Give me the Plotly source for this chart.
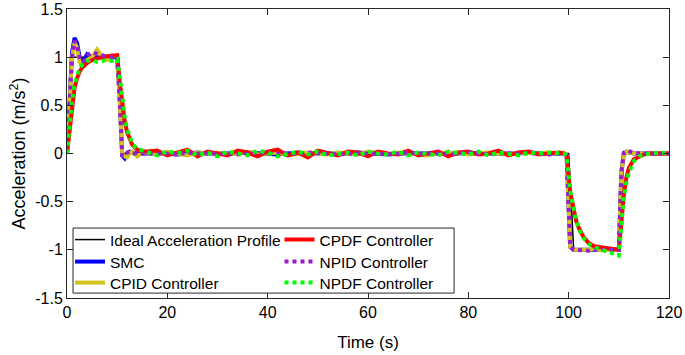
import plotly.graph_objects as go

# ---------------- data ----------------
t_rise = [0, 0.5, 1, 1.5, 2, 2.5, 3, 3.5, 4, 5, 6, 7, 8, 9, 10, 10.5, 11, 11.5, 12, 12.5, 13, 14, 15]
t_zero = [16, 18, 20, 22, 24, 26, 28, 30, 32, 34, 36, 38, 40, 42, 44, 46, 48, 50, 52, 54, 56,
          58, 60, 62, 64, 66, 68, 70, 72, 74, 76, 78, 80, 82, 84, 86, 88, 90, 92, 94, 96, 98]
t_fall = [99, 99.6, 100.3, 101, 101.5, 102, 103, 104, 105, 106, 107, 108, 109, 110, 110.5, 111,
          111.5, 112, 113, 114, 115, 116, 118, 120]

ideal_t = [0, 1, 10, 11, 100, 101, 110, 111, 120]
ideal_a = [0, 1, 1, 0, 0, -1, -1, 0, 0]

smc_rise = [0, 0.6, 1.05, 1.2, 1.15, 1.0, 0.95, 0.98, 1.03, 1.0, 1.0, 1.01, 1.0, 1.0, 1.0, 0.6, -0.02, -0.05, 0.0, 0.02, 0.01, 0.0, 0.0]
smc_zero = [0.0, 0.01, 0.0, -0.01, 0.0, 0.01, 0.0, 0.0, -0.01, 0.0, 0.01, 0.0, 0.0, -0.01, 0.0, 0.01, 0.0, 0.0, 0.0, -0.01, 0.0,
            0.01, 0.0, 0.0, -0.01, 0.0, 0.0, 0.01, 0.0, 0.0, -0.01, 0.0, 0.01, 0.0, 0.0, 0.0, -0.01, 0.0, 0.01, 0.0, 0.0, 0.0]
smc_fall = [0.0, -0.02, -0.97, -1.0, -1.0, -1.0, -1.0, -1.0, -1.0, -1.0, -1.0, -1.0, -1.0, -1.0, -0.2, 0.0, 0.02, 0.01, 0.0, 0.0, 0.0, 0.0, 0.0, 0.0]

cpid_rise = [0, 0.55, 1.0, 1.15, 1.1, 0.95, 0.9, 0.92, 0.97, 1.0, 1.08, 1.0, 0.97, 1.02, 1.0, 0.55, 0.0, -0.03, -0.04, 0.0, 0.02, -0.03, 0.01]
cpid_zero = [0.01, -0.01, 0.02, 0.0, -0.02, 0.01, 0.0, 0.01, -0.01, 0.0, 0.02, -0.01, 0.0, 0.01, -0.02, 0.0, 0.01, 0.0, -0.01, 0.01, 0.0,
             -0.01, 0.02, 0.0, -0.01, 0.01, 0.0, 0.0, -0.02, 0.01, 0.0, 0.01, -0.01, 0.0, 0.01, 0.0, -0.01, 0.01, 0.0, 0.0, 0.01, 0.0]
cpid_fall = [0.01, -0.02, -0.97, -1.0, -1.0, -1.0, -1.01, -1.0, -0.99, -1.0, -1.01, -1.0, -1.0, -1.0, -0.2, -0.02, 0.02, 0.01, 0.0, 0.0, 0.0, 0.0, 0.0, 0.0]

cpdf_rise = [0, 0.25, 0.5, 0.68, 0.78, 0.85, 0.89, 0.92, 0.94, 0.97, 0.99, 1.0, 1.01, 1.02, 1.02, 0.75, 0.5, 0.33, 0.22, 0.14, 0.09, 0.04, 0.02]
cpdf_zero = [0.02, 0.03, -0.02, 0.01, 0.04, -0.03, 0.02, 0.0, -0.02, 0.03, 0.01, -0.03, 0.02, 0.04, -0.02, 0.01, -0.04, 0.03, 0.0, -0.02, 0.02,
             0.01, -0.03, 0.02, 0.0, -0.01, 0.03, -0.02, 0.0, 0.02, -0.03, 0.01, 0.02, -0.01, 0.0, 0.03, -0.02, 0.01, 0.02, -0.01, 0.0, 0.01]
cpdf_fall = [0.0, -0.02, -0.4, -0.6, -0.7, -0.77, -0.87, -0.93, -0.96, -0.97, -0.98, -0.99, -1.0, -1.0, -0.72, -0.42, -0.25, -0.15, -0.06, -0.03, -0.01, 0.0, 0.0, 0.0]

npid_rise = [0, 0.55, 1.0, 1.17, 1.12, 1.0, 0.95, 0.97, 1.02, 1.05, 1.04, 1.02, 1.0, 1.0, 1.0, 0.55, -0.02, -0.03, 0.01, 0.02, 0.0, 0.0, 0.0]
npid_zero = [0.0, 0.01, 0.0, -0.01, 0.01, 0.0, 0.0, 0.01, 0.0, -0.01, 0.0, 0.01, 0.0, 0.0, -0.01, 0.0, 0.01, 0.0, 0.0, -0.01, 0.0,
             0.0, 0.01, 0.0, -0.01, 0.0, 0.01, 0.0, 0.0, 0.0, -0.01, 0.0, 0.01, 0.0, -0.01, 0.0, 0.0, 0.01, 0.0, 0.0, -0.01, 0.0]
npid_fall = [0.0, -0.02, -0.97, -1.0, -1.0, -1.01, -1.0, -1.01, -0.99, -1.0, -1.0, -1.0, -1.0, -1.0, -0.2, 0.01, 0.03, 0.02, 0.01, 0.0, 0.0, 0.0, 0.0, 0.0]

npdf_rise = [0, 0.3, 0.55, 0.72, 0.82, 0.88, 0.92, 0.94, 0.96, 0.97, 0.95, 0.96, 0.97, 0.96, 0.98, 0.8, 0.55, 0.38, 0.25, 0.16, 0.1, 0.05, 0.03]
npdf_zero = [0.01, -0.02, 0.02, 0.0, 0.03, -0.02, 0.01, -0.03, 0.02, 0.0, -0.02, 0.03, 0.01, -0.03, 0.0, 0.02, -0.01, 0.02, -0.02, 0.0, 0.01,
             -0.02, 0.02, 0.0, -0.01, 0.02, -0.02, 0.01, 0.0, -0.02, 0.02, 0.0, -0.01, 0.02, -0.02, 0.01, 0.0, -0.02, 0.01, 0.0, 0.01, 0.0]
npdf_fall = [0.0, -0.02, -0.38, -0.58, -0.7, -0.78, -0.88, -0.94, -0.97, -0.99, -1.0, -1.02, -1.04, -1.06, -0.75, -0.45, -0.3, -0.2, -0.08, -0.03, -0.01, 0.0, 0.01, 0.0]

x_ticks = [0, 20, 40, 60, 80, 100, 120]
y_ticks = [-1.5, -1, -0.5, 0, 0.5, 1, 1.5]
y_tick_labels = ["-1.5", "-1", "-0.5", "0", "0.5", "1", "1.5"]

# ---------------- figure ----------------
t_all = t_rise + t_zero + t_fall
font = "Liberation Sans, Arial, sans-serif"

fig = go.Figure()
fig.add_trace(go.Scatter(x=ideal_t, y=ideal_a, mode="lines", name="Ideal Acceleration Profile",
                         line=dict(color="black", width=1.5), legend="legend", showlegend=True))
fig.add_trace(go.Scatter(x=t_all, y=smc_rise + smc_zero + smc_fall, mode="lines", name="SMC",
                         line=dict(color="#0000ff", width=4), legend="legend2", showlegend=True))
fig.add_trace(go.Scatter(x=t_all, y=cpid_rise + cpid_zero + cpid_fall, mode="lines", name="CPID Controller",
                         line=dict(color="#d2c41a", width=4), legend="legend3", showlegend=True))
fig.add_trace(go.Scatter(x=t_all, y=cpdf_rise + cpdf_zero + cpdf_fall, mode="lines", name="CPDF Controller",
                         line=dict(color="#ff0000", width=4), legend="legend4", showlegend=True))
fig.add_trace(go.Scatter(x=t_all, y=npid_rise + npid_zero + npid_fall, mode="lines", name="NPID Controller",
                         line=dict(color="#9a1ad0", width=4, dash="dot"), legend="legend5", showlegend=True))
fig.add_trace(go.Scatter(x=t_all, y=npdf_rise + npdf_zero + npdf_fall, mode="lines", name="NPDF Controller",
                         line=dict(color="#00ff00", width=4, dash="dot"), legend="legend6", showlegend=True))

axis_common = dict(showline=True, linecolor="#262626", linewidth=1, mirror="ticks", ticks="inside",
                   ticklen=6, tickcolor="#262626", showgrid=False, zeroline=False, automargin=False,
                   tickfont=dict(family=font, size=16, color="black"))

fig.update_xaxes(range=[0, 120], tickvals=x_ticks,
                 title=dict(text="Time (s)", font=dict(family=font, size=17, color="black")),
                 **axis_common)
fig.update_yaxes(range=[-1.5, 1.5], tickvals=y_ticks, ticktext=y_tick_labels,
                 title=dict(text="Acceleration (m/s<sup>2</sup>)", font=dict(family=font, size=18, color="black"),
                            standoff=4),
                 **axis_common)

legend_common = dict(orientation="v", yanchor="middle", xanchor="left", bgcolor="rgba(0,0,0,0)",
                     borderwidth=0, font=dict(family=font, size=15.5, color="black"),
                     itemwidth=30, traceorder="normal")
col1_x, col2_x = 0.005, 0.353
row_y = [0.2007, 0.1246, 0.0519]

fig.update_layout(
    width=685, height=355,
    showlegend=True,
    margin=dict(l=67, r=16, t=9, b=57),
    plot_bgcolor="white", paper_bgcolor="white",
    font=dict(family=font, color="black"),
    legend=dict(x=col1_x, y=row_y[0], **legend_common),
    legend2=dict(x=col1_x, y=row_y[1], **legend_common),
    legend3=dict(x=col1_x, y=row_y[2], **legend_common),
    legend4=dict(x=col2_x, y=row_y[0], **legend_common),
    legend5=dict(x=col2_x, y=row_y[1], **legend_common),
    legend6=dict(x=col2_x, y=row_y[2], **legend_common),
    shapes=[dict(type="rect", xref="paper", yref="paper", x0=0.01, x1=0.643, y0=0.017, y1=0.242,
                 fillcolor="white", line=dict(color="#262626", width=1), layer="above")],
)

fig.write_html("out.html", config={"displayModeBar": False},
               post_script="document.body.style.margin='0px';")
